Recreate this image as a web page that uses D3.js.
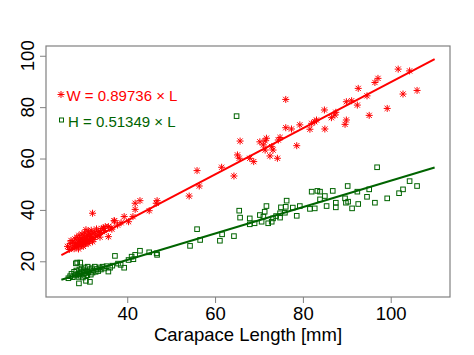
<!DOCTYPE html>
<meta charset="utf-8">
<style>
  body { margin: 0; background: #fff; }
  text { font-family: "Liberation Sans", Arial, sans-serif; }
</style>

<!-- Load d3.js -->
<script src="https://d3js.org/d3.v7.min.js"></script>

<!-- Create a div where the graph will take place -->
<div id="my_dataviz"></div>

<script>
// ---- data ----
var xTicks = [40, 60, 80, 100];
var yTicks = [20, 40, 60, 80, 100];
var slopeW = 0.89736;
var slopeH = 0.51349;
var lineRange = [25, 110];

// carapace width vs length
var wL = [101.7,104.3,97.1,96.4,92.6,106.0,102.8,94.6,89.9,91.1,92.4,99.2,95.1,84.9,87.5,87.3,86.5,89.9,89.6,85.0,
  82.7,82.0,83.1,79.3,76.1,77.4,81.6,76.1,74.8,74.4,78.6,65.7,70.2,71.4,71.7,71.0,72.9,73.2,71.4,72.5,74.2,65.1,65.5,
  67.9,68.8,61.5,64.3,55.9,56.4,54.1,46.8,46.6,42.9,41.8,41.8,45.0,41.3,40.3,39.3,37.0,35.7,34.6,35.7,32.1,37.1,
  33.9,34.8,36.5,37.8,38.6,
  26.4,26.8,27.0,27.2,27.5,27.6,27.9,28.0,28.1,28.3,28.4,28.5,28.7,28.8,28.9,29.0,29.1,29.2,29.3,29.4,29.5,29.6,29.7,
  29.8,29.9,30.0,30.1,30.2,30.3,30.4,30.5,30.6,30.7,30.8,30.9,31.0,31.1,31.2,31.3,31.4,31.6,31.7,31.8,32.0,32.1,32.2,
  32.4,32.6,32.8,33.0,33.2,33.5,33.8,34.2,35.0,36.3];
var wW = [94.8,94.1,91.2,89.6,87.3,86.5,85.1,84.4,82.1,82.5,80.8,79.5,76.8,78.9,78.0,76.9,75.9,75.0,73.3,71.5,
  74.3,73.7,75.0,73.1,72.0,71.5,71.4,83.0,68.2,67.2,65.0,66.8,66.5,66.9,67.9,65.3,64.6,63.3,63.3,61.0,60.1,61.4,60.1,
  60.1,58.8,56.6,53.2,55.3,49.3,45.4,43.6,42.6,43.6,42.6,40.2,39.7,37.4,35.4,37.4,35.8,33.5,32.8,29.6,38.7,35.7,
  31.2,31.9,32.5,34.1,35.0,
  25.8,24.6,26.9,28.1,25.3,27.4,24.9,26.2,28.7,27.0,25.7,29.3,26.5,27.8,24.8,30.1,26.9,28.4,25.9,27.5,29.0,26.3,30.6,
  28.0,27.1,25.8,29.4,27.7,31.0,28.6,26.8,32.3,29.1,27.4,30.2,28.3,26.9,31.5,29.7,27.9,30.5,28.8,32.1,29.3,27.6,30.9,
  28.5,31.4,29.8,32.6,30.2,31.6,29.4,32.8,33.5,33.0];

// carapace height vs length
var hL = [96.9,104.3,106.0,102.8,101.9,99.2,96.4,94.6,95.1,92.4,90.2,92.6,91.2,89.6,89.8,90.3,86.8,87.5,87.5,85.4,
  85.0,83.9,82.0,83.3,83.9,81.6,82.7,79.3,78.6,77.7,76.3,76.1,75.0,74.8,74.8,75.9,73.9,73.2,72.9,72.1,71.7,71.3,70.2,
  71.0,70.6,67.9,67.9,69.0,65.5,65.7,61.6,61.1,64.3,56.6,55.9,54.3,46.7,46.8,45.0,42.9,41.8,41.0,41.4,40.3,37.2,39.3,
  35.7,64.9,36.6,37.9,38.5,
  26.6,27.0,27.3,27.6,27.9,28.1,28.3,28.4,28.6,28.7,28.9,29.0,29.1,29.2,29.3,29.4,29.6,29.7,29.9,30.0,30.1,30.3,30.4,
  30.6,30.7,30.9,31.0,31.2,31.5,31.5,31.7,31.9,32.1,32.3,32.6,32.8,33.1,33.4,33.7,34.0,34.4,34.8,35.3,36.1];
var hH = [56.6,51.2,49.3,48.0,46.5,44.5,42.8,45.1,48.0,47.1,49.3,42.3,40.6,44.5,42.8,43.2,47.4,42.8,41.0,41.5,
  45.4,47.1,47.1,47.4,44.1,40.4,40.6,41.5,37.7,40.9,43.6,41.2,41.0,38.7,37.0,38.9,37.6,36.7,35.4,34.8,41.5,39.3,38.0,
  37.4,35.4,36.7,34.4,34.8,39.7,37.0,30.5,28.0,29.8,28.3,32.5,26.0,23.1,22.5,23.5,24.1,22.5,21.8,20.8,20.5,22.1,17.5,
  16.0,76.5,18.3,19.1,18.6,
  13.4,14.2,15.1,13.8,15.9,14.5,19.2,16.4,19.5,15.0,13.9,11.4,16.8,15.3,19.5,14.4,17.2,15.8,13.7,16.5,14.9,17.6,15.4,
  12.4,16.1,14.6,17.9,15.8,12.0,16.9,14.8,17.3,15.6,16.4,17.9,15.9,17.0,16.2,17.6,16.8,17.9,17.2,18.1,17.5];

var red = "#ff0000", green = "#006400", gray = "#808080";

// plot box
var box = {left: 46, right: 450, top: 46, bottom: 297};

var svg = d3.select("#my_dataviz")
  .append("svg")
    .attr("width", 474)
    .attr("height", 355);

var x = d3.scaleLinear()
  .domain([21.5, 113.5])
  .range([box.left, box.right]);

var y = d3.scaleLinear()
  .domain([6.1, 103.8])
  .range([box.bottom, box.top]);

// X axis
var gx = svg.append("g")
  .attr("transform", "translate(0," + box.bottom + ")")
  .call(d3.axisBottom(x).tickValues(xTicks).tickSize(6).tickPadding(4));
gx.select(".domain").remove();
gx.selectAll("line").attr("stroke", gray);
gx.selectAll("text")
  .attr("font-size", "18.5px")
  .attr("fill", "#000")
  .attr("font-family", "Liberation Sans, Arial, sans-serif");

// Y axis (rotated labels)
var gy = svg.append("g")
  .attr("transform", "translate(" + box.left + ",0)")
  .call(d3.axisLeft(y).tickValues(yTicks).tickSize(6).tickFormat(""));
gy.select(".domain").remove();
gy.selectAll("line").attr("stroke", gray);

svg.selectAll(".ylab")
  .data(yTicks)
  .enter()
  .append("text")
    .attr("transform", function(d) { return "translate(34," + y(d) + ") rotate(-90)"; })
    .attr("text-anchor", "middle")
    .attr("font-size", "18.5px")
    .attr("fill", "#000")
    .text(function(d) { return d; });

// box
svg.append("rect")
  .attr("x", box.left)
  .attr("y", box.top)
  .attr("width", box.right - box.left)
  .attr("height", box.bottom - box.top)
  .attr("fill", "none")
  .attr("stroke", gray)
  .attr("stroke-width", 1.2);

// axis title
svg.append("text")
  .attr("x", 248)
  .attr("y", 341)
  .attr("text-anchor", "middle")
  .attr("font-size", "18.5px")
  .text("Carapace Length [mm]");

// asterisk marker (R pch 8)
function star(g, cx, cy, col) {
  var r = 3.5, d = 2.6;
  g.append("path")
    .attr("d", "M" + (cx - r) + "," + cy + "h" + (2 * r) +
               "M" + cx + "," + (cy - r) + "v" + (2 * r) +
               "M" + (cx - d) + "," + (cy - d) + "l" + (2 * d) + "," + (2 * d) +
               "M" + (cx - d) + "," + (cy + d) + "l" + (2 * d) + "," + (-2 * d))
    .attr("stroke", col)
    .attr("stroke-width", 1)
    .attr("fill", "none");
}

// width points
var gw = svg.append("g");
wL.forEach(function(v, i) { star(gw, x(v), y(wW[i]), red); });

// height points
svg.append("g")
  .selectAll("rect")
  .data(hL)
  .enter()
  .append("rect")
    .attr("x", function(d) { return x(d) - 2.3; })
    .attr("y", function(d, i) { return y(hH[i]) - 2.3; })
    .attr("width", 4.6)
    .attr("height", 4.6)
    .attr("fill", "none")
    .attr("stroke", green)
    .attr("stroke-width", 1);

// fitted lines through the origin
var line = d3.line()
  .x(function(d) { return x(d[0]); })
  .y(function(d) { return y(d[1]); });

svg.append("path")
  .datum(lineRange.map(function(v) { return [v, slopeW * v]; }))
  .attr("d", line)
  .attr("stroke", red)
  .attr("stroke-width", 2)
  .attr("fill", "none");

svg.append("path")
  .datum(lineRange.map(function(v) { return [v, slopeH * v]; }))
  .attr("d", line)
  .attr("stroke", green)
  .attr("stroke-width", 2)
  .attr("fill", "none");

// legend
star(svg, 61, 94.5, red);
svg.append("text")
  .attr("x", 66.5)
  .attr("y", 100.5)
  .attr("font-size", "15px")
  .attr("fill", red)
  .text("W = " + slopeW + " \u00d7 L");

svg.append("rect")
  .attr("x", 59.5)
  .attr("y", 118)
  .attr("width", 4)
  .attr("height", 4)
  .attr("fill", "none")
  .attr("stroke", green);
svg.append("text")
  .attr("x", 68)
  .attr("y", 126.5)
  .attr("font-size", "15px")
  .attr("fill", green)
  .text("H = " + slopeH + " \u00d7 L");
</script>
